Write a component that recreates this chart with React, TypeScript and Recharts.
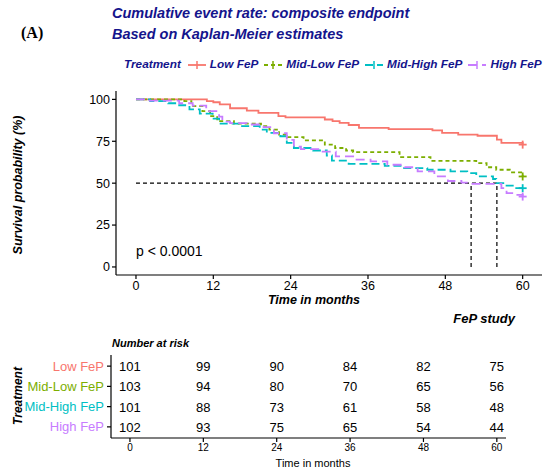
import React from 'react';
import {
  LineChart, Line, XAxis, YAxis, ReferenceLine, ScatterChart, Scatter,
} from 'recharts';

// Kaplan-Meier steps (months, survival %)
const lowMonths = [0, 11, 12, 13, 14.6, 17.2, 19, 22.1, 23.2, 29.3, 30.5, 31.6, 33, 34.6, 39.2, 46, 47.5, 50, 53, 56, 56.7, 60];
const lowSurv = [100, 99, 98.3, 97, 94.7, 93.3, 92, 90, 89.3, 88, 87, 86, 84.7, 83, 82.3, 81.5, 80, 79, 78.3, 76, 74, 73];

const midLowMonths = [0, 7.5, 8.6, 10.3, 11.5, 12.6, 15.2, 19.4, 20.7, 22.2, 23.5, 26, 29.3, 30.9, 32.6, 33.7, 40.9, 45.7, 52.8, 54.4, 55.9, 58, 60];
const midLowSurv = [100, 99, 96, 93, 90, 87, 85.5, 84, 82, 79, 77.5, 75.5, 73, 71, 69.5, 68.5, 65.5, 63.3, 62, 59.5, 58, 56.5, 54];

const midHighMonths = [0, 2.2, 5, 6.7, 8.3, 9.9, 11.9, 12.9, 16, 19.2, 20.3, 22.4, 23.4, 24.5, 27.5, 29.6, 30.4, 33, 38.6, 41.6, 45.2, 48.8, 51.4, 52.8, 55.4, 55.9, 57.5, 59, 60];
const midHighSurv = [100, 99, 97.7, 96.5, 94, 91.5, 88.5, 85.5, 84, 82, 80, 78, 74, 71, 69.5, 66.5, 63.5, 61.5, 60.3, 59, 58, 57, 56, 54, 52.5, 50, 48.5, 47, 47];

const highMonths = [0, 1.8, 6.7, 8.8, 10.9, 12.9, 13.4, 14.6, 17.2, 19.8, 21.4, 23.4, 24.5, 25.6, 28.5, 31, 33.7, 36.4, 39, 41.7, 43.7, 46.3, 48.4, 50.5, 51.9, 56.7, 57.5, 59, 60];
const highSurv = [100, 99.3, 97.7, 96.3, 93, 89.7, 86.7, 85.8, 85, 83.4, 79.8, 75.8, 71.8, 70.3, 68.8, 66, 64, 63, 61, 59.5, 57, 54, 51.3, 50.3, 49.6, 47, 44, 43, 42];

const groups = ['Low FeP', 'Mid-Low FeP', 'Mid-High FeP', 'High FeP'];
const colors = ['#F8766D', '#7CAE00', '#00BFC4', '#C77CFF'];
const dashes = ['0', '4 3', '8 4', '9 5'];

const timeTicks = [0, 12, 24, 36, 48, 60];
const survTicks = [0, 25, 50, 75, 100];
const medianMonths = [52, 56];

// number at risk
const riskLow = [101, 99, 90, 84, 82, 75];
const riskMidLow = [103, 94, 80, 70, 65, 56];
const riskMidHigh = [101, 88, 73, 61, 58, 48];
const riskHigh = [102, 93, 75, 65, 54, 44];

const NAVY = '#14148c';
const SANS = 'Liberation Sans, Arial, sans-serif';

const toSeries = (m: number[], s: number[]) => m.map((t, i) => ({ t, s: s[i] }));
const curves = [
  toSeries(lowMonths, lowSurv),
  toSeries(midLowMonths, midLowSurv),
  toSeries(midHighMonths, midHighSurv),
  toSeries(highMonths, highSurv),
];

const riskRows = [riskLow, riskMidLow, riskMidHigh, riskHigh];
// row 3 is the top row (Low FeP)
const riskData = riskRows.flatMap((row, g) =>
  row.map((n, i) => ({ t: timeTicks[i], row: 3 - g, n })),
);

const censorDot = (color: string, last: number) => (p: any) => {
  if (p.index !== last) return <g key={`d-${p.index}`} />;
  return (
    <g key={`d-${p.index}`} stroke={color} strokeWidth={1.8}>
      <line x1={p.cx - 4} x2={p.cx + 4} y1={p.cy} y2={p.cy} />
      <line x1={p.cx} x2={p.cx} y1={p.cy - 4} y2={p.cy + 4} />
    </g>
  );
};

const RowTick = (props: any) => {
  const { x, y, payload } = props;
  const g = 3 - payload.value;
  return (
    <text x={x - 1} y={y} dy={4.5} textAnchor="end" fill={colors[g]} fontSize={13} fontFamily={SANS}>
      {groups[g]}
    </text>
  );
};

const RiskCell = (props: any) => (
  <text x={props.cx} y={props.cy} dy={5} textAnchor="middle" fontSize={13} fontFamily={SANS} fill="#000">
    {props.payload.n}
  </text>
);

const LegendKey = ({ color, dash }: { color: string; dash: string }) => (
  <svg width={18} height={10} style={{ verticalAlign: 'middle', margin: '0 2px' }}>
    <line x1={0} x2={18} y1={5} y2={5} stroke={color} strokeWidth={1.8} strokeDasharray={dash} />
    <line x1={9} x2={9} y1={1} y2={9} stroke={color} strokeWidth={1.5} />
  </svg>
);

const App: React.FC = () => {
  const axisTick = { fill: '#000', fontSize: 12.5, fontFamily: SANS };
  return (
    <div style={{ position: 'absolute', left: 0, top: 0, width: 550, height: 475, background: '#fff', overflow: 'hidden' }}>
      <svg width={550} height={475} style={{ position: 'absolute', left: 0, top: 0 }}>
        <text x={21} y={38} fontFamily="Liberation Serif, serif" fontWeight="bold" fontSize={16}>(A)</text>
        <g fill={NAVY} fontFamily={SANS} fontWeight="bold" fontStyle="italic" fontSize={14.5}>
          <text x={112} y={18}>Cumulative event rate: composite endpoint</text>
          <text x={112} y={39}>Based on Kaplan-Meier estimates</text>
        </g>
        <text transform="translate(22,185) rotate(-90)" textAnchor="middle" fontFamily={SANS}
          fontWeight="bold" fontStyle="italic" fontSize={12.5}>Survival probability (%)</text>
        <text x={314} y={304} textAnchor="middle" fontFamily={SANS} fontWeight="bold" fontStyle="italic" fontSize={12.5}>Time in months</text>
        <text x={515} y={323} textAnchor="end" fontFamily={SANS} fontWeight="bold" fontStyle="italic" fontSize={13}>FeP study</text>
        <text x={112} y={347} fontFamily={SANS} fontWeight="bold" fontStyle="italic" fontSize={11}>Number at risk</text>
        <text transform="translate(22,396) rotate(-90)" textAnchor="middle" fontFamily={SANS}
          fontWeight="bold" fontStyle="italic" fontSize={12}>Treatment</text>
        <text x={313} y={467} textAnchor="middle" fontFamily={SANS} fontSize={11}>Time in months</text>
        <text x={136} y={256} fontFamily={SANS} fontSize={14}>p &lt; 0.0001</text>
      </svg>

      <div style={{
        position: 'absolute', left: 124, top: 56, whiteSpace: 'nowrap', color: NAVY,
        fontFamily: SANS, fontWeight: 'bold', fontStyle: 'italic', fontSize: 11.8, lineHeight: '16px',
      }}>
        <span style={{ marginRight: 5 }}>Treatment</span>
        {groups.map((g, i) => (
          <span key={g} style={{ marginRight: 4 }}>
            <LegendKey color={colors[i]} dash={dashes[i]} />
            <span style={{ marginLeft: 2 }}>{g}</span>
          </span>
        ))}
      </div>

      <div style={{ position: 'absolute', left: 0, top: 0 }}>
        <LineChart width={550} height={300} margin={{ top: 91, right: 8, bottom: 5, left: 0 }}>
          <XAxis type="number" dataKey="t" domain={[-3.1, 63]} ticks={timeTicks} allowDataOverflow interval={0}
            stroke="#000" strokeWidth={1.2} tick={axisTick} tickSize={4} height={20} />
          <YAxis type="number" domain={[-4.8, 105]} ticks={survTicks} allowDataOverflow interval={0}
            stroke="#000" strokeWidth={1.2} tick={axisTick} tickSize={4} width={116} />
          <ReferenceLine segment={[{ x: 0, y: 50 }, { x: 56, y: 50 }]} stroke="#000" strokeWidth={1.2} strokeDasharray="4 3" />
          {medianMonths.map((m) => (
            <ReferenceLine key={m} segment={[{ x: m, y: 0 }, { x: m, y: 50 }]} stroke="#000" strokeWidth={1.2} strokeDasharray="4 3" />
          ))}
          {curves.map((data, i) => (
            <Line key={groups[i]} data={data} dataKey="s" type="stepAfter" stroke={colors[i]}
              strokeWidth={1.8} strokeDasharray={dashes[i]} dot={censorDot(colors[i], data.length - 1)}
              activeDot={false} isAnimationActive={false} />
          ))}
        </LineChart>
      </div>

      <div style={{ position: 'absolute', left: 0, top: 340 }}>
        <ScatterChart width={550} height={135} margin={{ top: 15, right: 44, bottom: 17, left: 0 }}>
          <XAxis type="number" dataKey="t" domain={[-3.1, 61.5]} ticks={timeTicks} allowDataOverflow interval={0}
            stroke="#000" strokeWidth={1.2} tick={{ fill: '#000', fontSize: 10, fontFamily: SANS }} tickSize={4} height={20} />
          <YAxis type="number" dataKey="row" domain={[-0.55, 3.55]} ticks={[0, 1, 2, 3]} allowDataOverflow interval={0}
            stroke="#000" strokeWidth={1.2} tick={<RowTick />} tickSize={4} width={111} />
          <Scatter data={riskData} shape={<RiskCell />} isAnimationActive={false} />
        </ScatterChart>
      </div>
    </div>
  );
};

export default App;
